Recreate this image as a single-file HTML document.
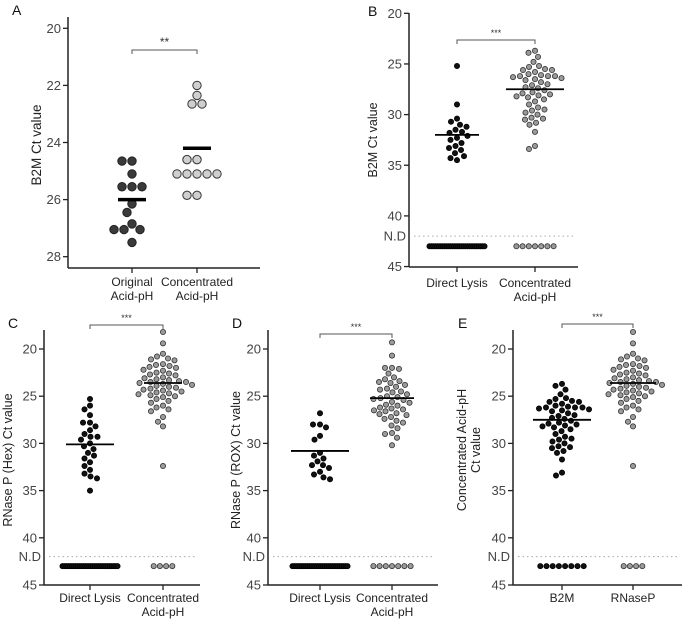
<!DOCTYPE html>
<html><head><meta charset="utf-8"><style>
body{margin:0;background:#fff}
svg{display:block;font-family:"Liberation Sans",Arial,sans-serif}
</style></head><body>
<svg id="fig" width="685" height="620" viewBox="0 0 685 620" xmlns="http://www.w3.org/2000/svg"></svg>
<script>
// ---- data ----
const aCategories = ["Original|Acid-pH", "Concentrated|Acid-pH"];
const aOriginal = [24.65,24.65,25.1,25.55,25.55,25.55,26.15,26.45,26.85,27.05,27.05,27.05,27.5];
const aConcentrated = [22.0,22.35,22.65,22.65,24.6,24.6,25.1,25.1,25.1,25.1,25.1,25.85,25.85];
const aMeans = [26.0, 24.2];

const lysisCategories = ["Direct Lysis", "Concentrated|Acid-pH"];
const bDirect = [25.2,29.0,30.4,30.7,31.0,31.2,31.5,31.7,31.8,32.1,32.3,32.5,32.8,33.1,33.3,33.5,33.8,34.1,34.3,34.5];
const bConc = [23.7,23.9,24.3,24.8,25.2,25.3,25.5,25.6,25.6,25.8,26.0,26.1,26.2,26.2,26.2,26.3,26.4,26.5,26.6,26.8,27.0,27.1,27.3,27.4,27.6,27.8,27.9,28.0,28.1,28.2,28.3,28.5,28.7,29.0,29.3,29.5,29.6,29.8,30.0,30.3,30.4,30.5,30.8,31.0,31.7,33.1,33.4];
const bMeans = [32.0, 27.5];
const bNDCounts = [30, 7];

const cDirect = [25.3,26.0,26.4,27.0,27.8,27.8,28.2,28.6,29.0,29.3,29.3,29.6,30.0,30.3,30.6,31.0,31.3,31.6,32.0,32.4,32.8,33.2,33.5,33.7,35.0];
const cConc = [18.2,19.4,20.5,20.8,21.0,21.1,21.2,21.6,21.7,21.8,21.9,22.0,22.2,22.3,22.5,22.6,22.7,22.8,23.0,23.1,23.2,23.3,23.4,23.5,23.5,23.6,23.7,23.8,23.9,24.0,24.1,24.2,24.3,24.4,24.5,24.6,24.7,24.8,24.9,25.0,25.1,25.3,25.5,25.7,26.0,26.2,26.4,26.6,27.2,27.7,28.2,32.4];
const cMeans = [30.1, 23.6];
const cNDCounts = [30, 4];

const dDirect = [26.8,28.0,28.0,28.3,29.2,29.6,31.0,31.3,31.6,31.9,32.3,32.3,32.6,33.0,33.3,33.6,33.8];
const dConc = [19.3,20.7,22.0,22.0,22.1,22.6,23.0,23.2,23.4,23.5,23.6,23.8,24.0,24.2,24.3,24.5,24.6,24.8,25.0,25.1,25.2,25.3,25.4,25.6,25.7,25.9,26.0,26.2,26.3,26.4,26.5,26.6,26.8,26.9,27.0,27.2,27.4,27.6,27.8,28.1,28.4,28.9,29.0,29.4,30.2];
const dMeans = [30.8, 25.2];
const dNDCounts = [30, 7];

const eCategories = ["B2M", "RNaseP"];
const eMeans = [27.5, 23.6];
const eNDCounts = [8, 4];

const ticksA = [20,22,24,26,28];
const ticksB = [20,25,30,35,40,45];
const ND_VALUE = 43, ND_LINE = 42;

// ---- drawing ----
const NS = "http://www.w3.org/2000/svg";
const svg = document.getElementById("fig");
function mk(tag, attrs, parent, name){
  const e = document.createElementNS(NS, tag);
  for (const k in attrs) e.setAttribute(k, attrs[k]);
  
  
  (parent||svg).appendChild(e); return e;
}
function txt(x,y,s,attrs,parent,name){
  const t = mk("text", Object.assign({x:x,y:y}, attrs), parent, name);
  t.textContent = s; return t;
}
function swarm(values, cx, yf, r){
  const placed = [];
  const sorted = values.slice().sort((a,b)=>a-b);
  const out = [];
  sorted.forEach(v=>{
    const y = yf(v);
    let best = 0;
    for (let k=0;k<400;k++){
      const off = (k%2===0?1:-1)*Math.ceil(k/2)*0.5;
      let ok = true;
      for (const p of placed){ if (Math.hypot(p.x-(cx+off), p.y-y) < 2*r+1.4){ ok=false; break; } }
      if (ok){ best = off; break; }
    }
    const p = {x:cx+best, y:y}; placed.push(p); out.push(p);
  });
  return out;
}
function panel(cfg){
  const g = mk("g", {}, svg, cfg.name);
  const yf = v => cfg.y0 + (v - cfg.t0) * cfg.k;
  mk("line",{x1:cfg.ax,y1:cfg.axTop,x2:cfg.ax,y2:cfg.axBot,stroke:"#222","stroke-width":1.5},g,"y-axis-line");
  mk("line",{x1:cfg.ax,y1:cfg.axBot,x2:cfg.axRight,y2:cfg.axBot,stroke:"#222","stroke-width":1.5},g,"x-axis-line");
  cfg.ticks.forEach(t=>{
    const y = yf(t);
    mk("line",{x1:cfg.ax-5,y1:y,x2:cfg.ax,y2:y,stroke:"#222","stroke-width":1.3},g,"y-tick");
    txt(cfg.ax-7,y+4.5,String(t),{"text-anchor":"end","font-size":13,fill:"#444"},g,"y-tick-label");
  });
  if (cfg.nd){
    const y = yf(ND_LINE);
    mk("line",{x1:cfg.ax+5,y1:y,x2:cfg.axRight-5,y2:y,stroke:"#aaa","stroke-width":1,"stroke-dasharray":"1.5,3"},g,"nd-threshold-line");
    txt(cfg.ax-3,y+4.5,"N.D",{"text-anchor":"end","font-size":13,fill:"#444"},g,"nd-label");
  }
  cfg.ytitle.forEach((s,i)=>{
    const x = cfg.ytx + i*14;
    txt(x,cfg.yty,s,{"text-anchor":"middle","font-size":cfg.ytfs||12.5,fill:"#222",transform:`rotate(-90 ${x} ${cfg.yty})`},g,"y-axis-title");
  });
  cfg.cats.forEach((c,i)=>{
    const cx = cfg.cx[i];
    mk("line",{x1:cx,y1:cfg.axBot,x2:cx,y2:cfg.axBot+5,stroke:"#222","stroke-width":1.3},g,"x-tick");
    c.split("|").forEach((s,j)=>txt(cx,cfg.xly+j*14,s,{"text-anchor":"middle","font-size":12,fill:"#222"},g,"x-tick-label"));
    const pts = swarm(cfg.series[i], cx, yf, cfg.r);
    pts.forEach(p=>mk("circle",{cx:p.x,cy:p.y,r:cfg.r,fill:cfg.fills[i],stroke:cfg.strokes[i],"stroke-width":cfg.sw},g,"data-point"));
    if (cfg.nd){
      const n = cfg.ndCounts[i];
      const sp = Math.min(2*cfg.r+1, cfg.ndWidth/Math.max(n-1,1));
      const w = sp*(n-1);
      for (let j=0;j<n;j++){
        mk("circle",{cx:cx-w/2+j*sp,cy:yf(ND_VALUE),r:cfg.r,fill:cfg.fills[i],stroke:cfg.strokes[i],"stroke-width":cfg.sw},g,"nd-point");
      }
    }
    const hw = cfg.meanHW[i];
    mk("line",{x1:cx-hw,y1:yf(cfg.means[i]),x2:cx+hw,y2:yf(cfg.means[i]),stroke:"#000","stroke-width":cfg.meanW},g,"mean-line");
  });
  const by = cfg.by;
  mk("path",{d:`M${cfg.cx[0]},${by+4}V${by}H${cfg.cx[1]}V${by+4}`,fill:"none",stroke:"#555","stroke-width":1},g,"significance-bracket");
  txt((cfg.cx[0]+cfg.cx[1])/2,by-4,cfg.stars,{"text-anchor":"middle","font-size":cfg.stars.length>2?9:12,fill:"#333"},g,"significance-stars");
  txt(cfg.lx,cfg.ly,cfg.letter,{"font-size":14,fill:"#111"},g,"panel-letter");
}

panel({name:"panel-a",letter:"A",lx:12,ly:15,ax:68,axTop:17,axBot:268,axRight:260,t0:20,y0:28.3,k:28.55,ticks:ticksA,
  nd:false,ytitle:["B2M Ct value"],ytfs:13.5,ytx:41,yty:145,cats:aCategories,cx:[132,197],xly:286,series:[aOriginal,aConcentrated],
  r:4.2,sw:1,fills:["#3a3a3a","#cfcfcf"],strokes:["#222","#333"],means:aMeans,meanHW:[14,14],meanW:3.5,by:50,stars:"**"});
panel({name:"panel-b",letter:"B",lx:368,ly:16,ax:409,axTop:13,axBot:267,axRight:578,t0:20,y0:13.3,k:10.13,ticks:ticksB,
  nd:true,ndCounts:bNDCounts,ndWidth:55,ytitle:["B2M Ct value"],ytx:377,yty:140,cats:lysisCategories,cx:[457,535],xly:287,
  series:[bDirect,bConc],r:2.6,sw:0.8,fills:["#111","#9a9a9a"],strokes:["#000","#333"],means:bMeans,meanHW:[22,29],meanW:1.8,by:40,stars:"***"});
panel({name:"panel-c",letter:"C",lx:8,ly:328,ax:44,axTop:330,axBot:585,axRight:200,t0:20,y0:349,k:9.44,ticks:ticksB,
  nd:true,ndCounts:cNDCounts,ndWidth:55,ytitle:["RNase P (Hex) Ct value"],ytx:12,yty:460,cats:lysisCategories,cx:[90,163],xly:602,
  series:[cDirect,cConc],r:2.6,sw:0.8,fills:["#111","#9a9a9a"],strokes:["#000","#333"],means:cMeans,meanHW:[24,19],meanW:1.8,by:325,stars:"***"});
panel({name:"panel-d",letter:"D",lx:232,ly:328,ax:268,axTop:330,axBot:585,axRight:438,t0:20,y0:349,k:9.44,ticks:ticksB,
  nd:true,ndCounts:dNDCounts,ndWidth:55,ytitle:["RNase P (ROX) Ct value"],ytx:240,yty:460,cats:lysisCategories,cx:[320,392],xly:602,
  series:[dDirect,dConc],r:2.6,sw:0.8,fills:["#111","#9a9a9a"],strokes:["#000","#333"],means:dMeans,meanHW:[29,22],meanW:1.8,by:334,stars:"***"});
panel({name:"panel-e",letter:"E",lx:458,ly:328,ax:513,axTop:330,axBot:585,axRight:682,t0:20,y0:349,k:9.44,ticks:ticksB,
  nd:true,ndCounts:eNDCounts,ndWidth:55,ytitle:["Concentrated Acid-pH","Ct value"],ytx:466,yty:450,cats:eCategories,cx:[562,633],xly:602,
  series:[bConc,cConc],r:2.6,sw:0.8,fills:["#111","#9a9a9a"],strokes:["#000","#333"],means:eMeans,meanHW:[29,23],meanW:1.8,by:324,stars:"***"});
</script>
</body></html>
